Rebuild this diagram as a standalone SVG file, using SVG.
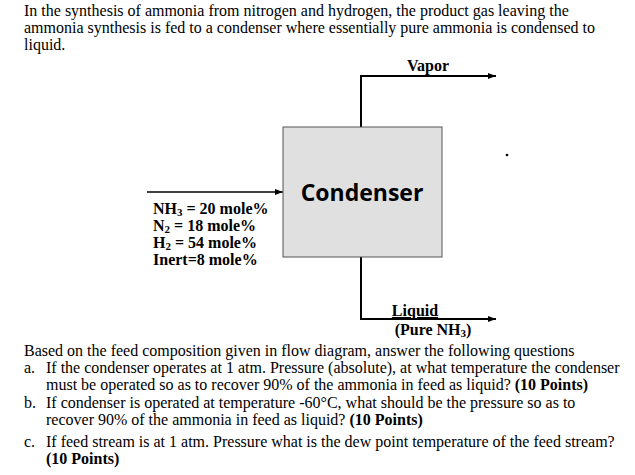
<svg xmlns="http://www.w3.org/2000/svg" width="635" height="475" viewBox="0 0 635 475">
<defs><marker id="ah" markerWidth="8" markerHeight="6" refX="8" refY="3" orient="auto" markerUnits="userSpaceOnUse"><path d="M0,0 L8,3 L0,6 Z" fill="#000"/></marker></defs>
<style>
.t{font-family:"Liberation Serif",serif;font-size:16px;fill:#000}
.b{font-weight:bold}
.c{stroke:#000;fill:none}
</style>
<rect width="635" height="475" fill="#fff"/>
<text class="t" x="24" y="16">In the synthesis of ammonia from nitrogen and hydrogen, the product gas leaving the</text>
<text class="t" x="24" y="33">ammonia synthesis is fed to a condenser where essentially pure ammonia is condensed to</text>
<text class="t" x="24" y="50">liquid.</text>
<g id="connectors">
<path class="c" stroke-width="2" d="M361,127 V76 H496" marker-end="url(#ah)"/>
<path class="c" stroke-width="2" d="M361,257 V319 H496" marker-end="url(#ah)"/>
<path class="c" stroke-width="1.5" d="M147,192 H283" marker-end="url(#ah)"/>
</g>
<g id="condenser">
<rect x="283" y="127" width="159" height="130" fill="#e0e0e0" stroke="#555" stroke-width="1"/>
<text x="362" y="201" text-anchor="middle" font-family="'Open Sans',sans-serif" font-weight="bold" font-size="23">Condenser</text>
</g>
<circle cx="507" cy="155" r="1.3" fill="#000"/>
<g id="labels">
<text class="t b" x="428" y="71" text-anchor="middle">Vapor</text>
<text class="t b" x="415" y="316" text-anchor="middle" text-decoration="underline">Liquid</text>
<text class="t b" x="433" y="335" text-anchor="middle">(Pure NH<tspan font-size="11" dy="2">3</tspan><tspan dy="-2">)</tspan></text>
<text class="t b" x="153" y="214">NH<tspan font-size="11" dy="2">3</tspan><tspan dy="-2"> = 20 mole%</tspan></text>
<text class="t b" x="153" y="231">N<tspan font-size="11" dy="2">2</tspan><tspan dy="-2"> = 18 mole%</tspan></text>
<text class="t b" x="153" y="248">H<tspan font-size="11" dy="2">2</tspan><tspan dy="-2"> = 54 mole%</tspan></text>
<text class="t b" x="153" y="265">Inert=8 mole%</text>
</g>
<text class="t" x="24" y="356">Based on the feed composition given in flow diagram, answer the following questions</text>
<text class="t" x="24" y="373">a.</text>
<text class="t" x="46" y="373">If the condenser operates at 1 atm. Pressure (absolute), at what temperature the condenser</text>
<text class="t" x="46" y="390">must be operated so as to recover 90% of the ammonia in feed as liquid? <tspan class="b">(10 Points)</tspan></text>
<text class="t" x="24" y="408">b.</text>
<text class="t" x="46" y="408">If condenser is operated at temperature -60°C, what should be the pressure so as to</text>
<text class="t" x="46" y="425">recover 90% of the ammonia in feed as liquid? <tspan class="b">(10 Points)</tspan></text>
<text class="t" x="24" y="447">c.</text>
<text class="t" x="46" y="447">If feed stream is at 1 atm. Pressure what is the dew point temperature of the feed stream?</text>
<text class="t b" x="46" y="464">(10 Points)</text>
</svg>
